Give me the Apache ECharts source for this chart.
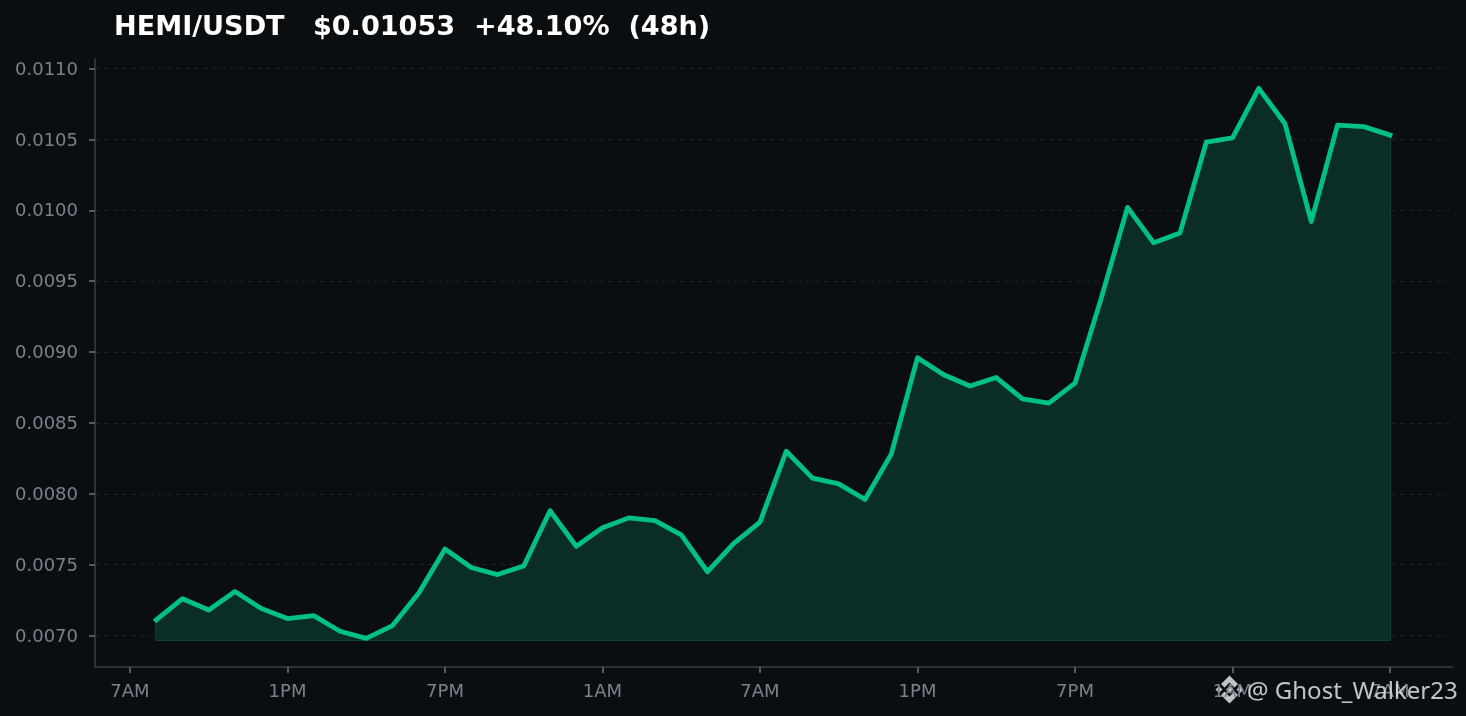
<!DOCTYPE html>
<html><head><meta charset="utf-8">
<style>html,body{margin:0;padding:0;background:#0a0e11}#c{width:1466px;height:716px}</style>
<script src="https://cdn.jsdelivr.net/npm/echarts@6/dist/echarts.min.js"></script>
</head><body><div id="c"></div>
<script>
const titleText = 'HEMI/USDT   $0.01053  +48.10%  (48h)';
const hours = [1,2,3,4,5,6,7,8,9,10,11,12,13,14,15,16,17,18,19,20,21,22,23,24,25,26,27,28,29,30,31,32,33,34,35,36,37,38,39,40,41,42,43,44,45,46,47,48];
const prices = [0.00711,0.00726,0.00718,0.00731,0.00719,0.00712,0.00714,0.00703,0.00698,0.00707,0.00730,0.00761,0.00748,0.00743,0.00749,0.00788,0.00763,0.00776,0.00783,0.00781,0.00771,0.00745,0.00765,0.00780,0.00830,0.00811,0.00807,0.00796,0.00828,0.00896,0.00884,0.00876,0.00882,0.00867,0.00864,0.00878,0.00938,0.01002,0.00977,0.00984,0.01048,0.01051,0.01086,0.01061,0.00992,0.01060,0.01059,0.01053];
const fillBase = 0.006968;
const xTickHours = [0,6,12,18,24,30,36,42,48];
const xTickLabels = ['7AM','1PM','7PM','1AM','7AM','1PM','7PM','1AM','7AM'];
const yTicks = [0.0070,0.0075,0.0080,0.0085,0.0090,0.0095,0.0100,0.0105,0.0110];
const watermark = '@ Ghost_Walker23';

const lineData = hours.map((h,i)=>[h,prices[i]]);
const edgeData = [[hours[0],prices[0]],[hours[0],fillBase],[hours[hours.length-1],fillBase],[hours[hours.length-1],prices[prices.length-1]]];
const font = '"DejaVu Sans"';
const chart = echarts.init(document.getElementById('c'),null,{renderer:'canvas'});
const wm = 'rgba(225,228,230,0.85)';
chart.setOption({
  animation:false,
  backgroundColor:'#0a0e11',
  title:{text:titleText,left:114,top:14,padding:0,textStyle:{color:'#ffffff',fontFamily:font,fontWeight:'bold',fontSize:27.1}},
  grid:{left:95,right:14,top:59,bottom:49},
  xAxis:{type:'value',min:-1.3333,max:50.362,
    axisLine:{show:true,onZero:false,lineStyle:{color:'#2e3238',width:2}},
    axisTick:{show:true,length:6,lineStyle:{color:'#565b63',width:2},customValues:xTickHours},
    axisLabel:{color:'#7b828d',fontFamily:font,fontSize:18,margin:16,customValues:xTickHours,
      formatter:v=>xTickLabels[xTickHours.indexOf(v)]},
    splitLine:{show:false}},
  yAxis:{type:'value',min:0.006778,max:0.011067,
    axisLine:{show:true,onZero:false,lineStyle:{color:'#2e3238',width:2}},
    axisTick:{show:true,length:6,lineStyle:{color:'#565b63',width:2},customValues:yTicks},
    axisLabel:{color:'#7b828d',fontFamily:font,fontSize:18,margin:17,customValues:yTicks,
      formatter:v=>'{a|'+v.toFixed(4)+'}',
      rich:{a:{color:'#7b828d',fontFamily:font,fontSize:18,padding:[3,0,0,0]}}},
    splitLine:{show:true,lineStyle:{color:'#1e2328',type:[5,4],width:1}}},
  series:[
    {type:'line',name:'fill edge',data:edgeData,symbol:'none',silent:true,z:2,
      lineStyle:{color:'#0e4334',width:2}},
    {type:'line',name:'HEMI/USDT',data:lineData,symbol:'none',z:3,
      lineStyle:{color:'#00c087',width:4.8,join:'round',cap:'square'},
      areaStyle:{color:'#0a2d26',opacity:1,origin:fillBase}}
  ],
  graphic:[
    {type:'text',z:100,style:{text:watermark,x:1247,y:692,verticalAlign:'middle',fill:wm,font:'24px "Noto Sans"'}},
    {type:'group',z:100,x:1229.5,y:689.5,children:[
      {type:'polygon',shape:{points:[[0,-3.5],[3.5,0],[0,3.5],[-3.5,0]]},style:{fill:wm}},
      {type:'polygon',shape:{points:[[-14,0],[-10.5,-3.5],[-7,0],[-10.5,3.5]]},style:{fill:wm}},
      {type:'polygon',shape:{points:[[14,0],[10.5,-3.5],[7,0],[10.5,3.5]]},style:{fill:wm}},
      {type:'polygon',shape:{points:[[0,-14],[8.5,-5.5],[5,-2],[0,-7],[-5,-2],[-8.5,-5.5]]},style:{fill:wm}},
      {type:'polygon',shape:{points:[[0,14],[8.5,5.5],[5,2],[0,7],[-5,2],[-8.5,5.5]]},style:{fill:wm}}
    ]}
  ]
});
</script></body></html>
